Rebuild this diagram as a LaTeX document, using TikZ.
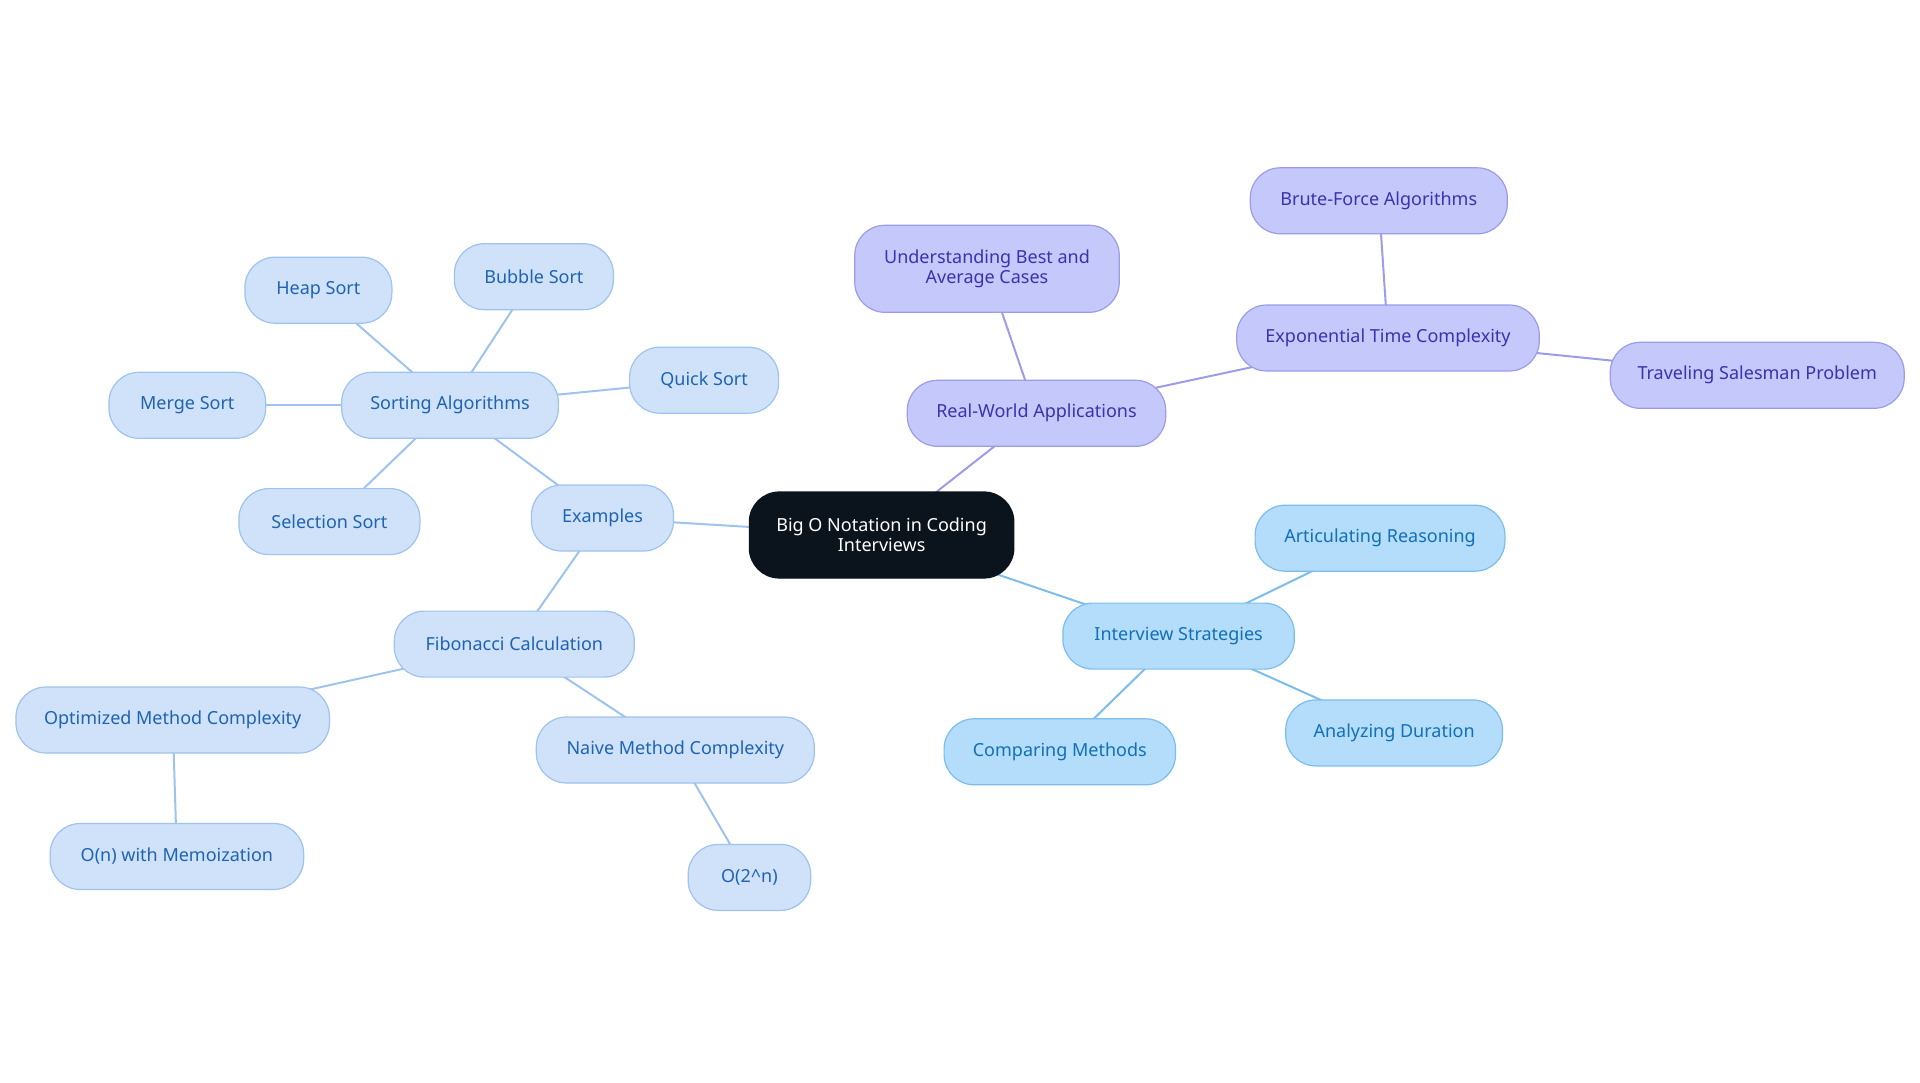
\documentclass[tikz,border=0pt]{standalone}
\usepackage{fontspec}
\setmainfont{Noto Sans}
\usetikzlibrary{positioning,backgrounds}
\definecolor{rootfill}{HTML}{0B131C}
\definecolor{exfill}{HTML}{CFE2FA}
\definecolor{exline}{HTML}{9EC3EE}
\definecolor{extext}{HTML}{1E63B4}
\definecolor{rwfill}{HTML}{C5C8FB}
\definecolor{rwline}{HTML}{9C9CE8}
\definecolor{rwtext}{HTML}{3A32B0}
\definecolor{isfill}{HTML}{B3DDFB}
\definecolor{isline}{HTML}{7DBDEB}
\definecolor{istext}{HTML}{1270B8}

\begin{document}
\begin{tikzpicture}[x=1pt,y=-1pt,
  font=\fontsize{18}{20}\selectfont,
  box/.style={rounded corners=30pt,line width=1.2pt,minimum height=66pt,inner xsep=20pt,align=center},
  rootbox/.style={box,fill=rootfill,draw=rootfill,text=white,minimum height=86pt},
  exbox/.style={box,fill=exfill,draw=exline,text=extext},
  rwbox/.style={box,fill=rwfill,draw=rwline,text=rwtext},
  isbox/.style={box,fill=isfill,draw=isline,text=istext},
  exedge/.style={draw=exline,line width=2pt},
  rwedge/.style={draw=rwline,line width=2pt},
  isedge/.style={draw=isline,line width=2pt}]
  \useasboundingbox (0,0) rectangle (1920,1083); % 画像全体の枠
  % 中心
  \node[rootbox,minimum width=264.5pt] (root) at (881.6,535) {Big O Notation in Coding\\Interviews};
  % 例の枝
  \node[exbox,minimum width=142pt] (examples) at (602.5,518) {Examples};
  \node[exbox,minimum width=216.7pt] (sorting) at (450,405.3) {Sorting Algorithms};
  \node[exbox,minimum width=147pt] (heap) at (318.4,290.2) {Heap Sort};
  \node[exbox,minimum width=159pt] (bubble) at (533.9,276.7) {Bubble Sort};
  \node[exbox,minimum width=149pt] (quick) at (704.1,380.2) {Quick Sort};
  \node[exbox,minimum width=156.7pt] (merge) at (187.3,405.3) {Merge Sort};
  \node[exbox,minimum width=181pt] (selection) at (329.4,521.6) {Selection Sort};
  \node[exbox,minimum width=240pt] (fibonacci) at (514.3,644.1) {Fibonacci Calculation};
  \node[exbox,minimum width=313.5pt] (optimized) at (172.7,720) {Optimized Method Complexity};
  \node[exbox,minimum width=253.5pt] (memo) at (176.9,856.5) {O(n) with Memoization};
  \node[exbox,minimum width=278pt] (naive) at (675.3,750) {Naive Method Complexity};
  \node[exbox,minimum width=122.5pt] (expo2) at (749.4,877.4) {O(2\^{}n)};
  % 応用の枝
  \node[rwbox,minimum width=258.4pt] (realworld) at (1036.5,413.3) {Real-World Applications};
  \node[rwbox,minimum width=264.5pt,minimum height=87pt] (bestavg) at (987,268.8) {Understanding Best and\\Average Cases};
  \node[rwbox,minimum width=302.5pt] (exptime) at (1388,338) {Exponential Time Complexity};
  \node[rwbox,minimum width=257pt] (brute) at (1378.8,200.8) {Brute-Force Algorithms};
  \node[rwbox,minimum width=294pt] (salesman) at (1757.2,375.3) {Traveling Salesman Problem};
  % 面接の枝
  \node[isbox,minimum width=231.4pt] (strategies) at (1178.6,636.1) {Interview Strategies};
  \node[isbox,minimum width=249.8pt] (reasoning) at (1380,538.2) {Articulating Reasoning};
  \node[isbox,minimum width=216.7pt] (duration) at (1394.1,732.9) {Analyzing Duration};
  \node[isbox,minimum width=231.4pt] (comparing) at (1059.8,751.8) {Comparing Methods};
  % 接続線（ノードの裏に描く）
  \begin{scope}[on background layer]
  \path[exedge] (root.center) -- (examples.center);
  \path[exedge] (examples.center) -- (sorting.center);
  \path[exedge] (sorting.center) -- (heap.center);
  \path[exedge] (sorting.center) -- (bubble.center);
  \path[exedge] (sorting.center) -- (quick.center);
  \path[exedge] (sorting.center) -- (merge.center);
  \path[exedge] (sorting.center) -- (selection.center);
  \path[exedge] (examples.center) -- (fibonacci.center);
  \path[exedge] (fibonacci.center) -- (optimized.center);
  \path[exedge] (optimized.center) -- (memo.center);
  \path[exedge] (fibonacci.center) -- (naive.center);
  \path[exedge] (naive.center) -- (expo2.center);
  \path[rwedge] (root.center) -- (realworld.center);
  \path[rwedge] (realworld.center) -- (bestavg.center);
  \path[rwedge] (realworld.center) -- (exptime.center);
  \path[rwedge] (exptime.center) -- (brute.center);
  \path[rwedge] (exptime.center) -- (salesman.center);
  \path[isedge] (root.center) -- (strategies.center);
  \path[isedge] (strategies.center) -- (reasoning.center);
  \path[isedge] (strategies.center) -- (duration.center);
  \path[isedge] (strategies.center) -- (comparing.center);
  \end{scope}
\end{tikzpicture}
\end{document}
